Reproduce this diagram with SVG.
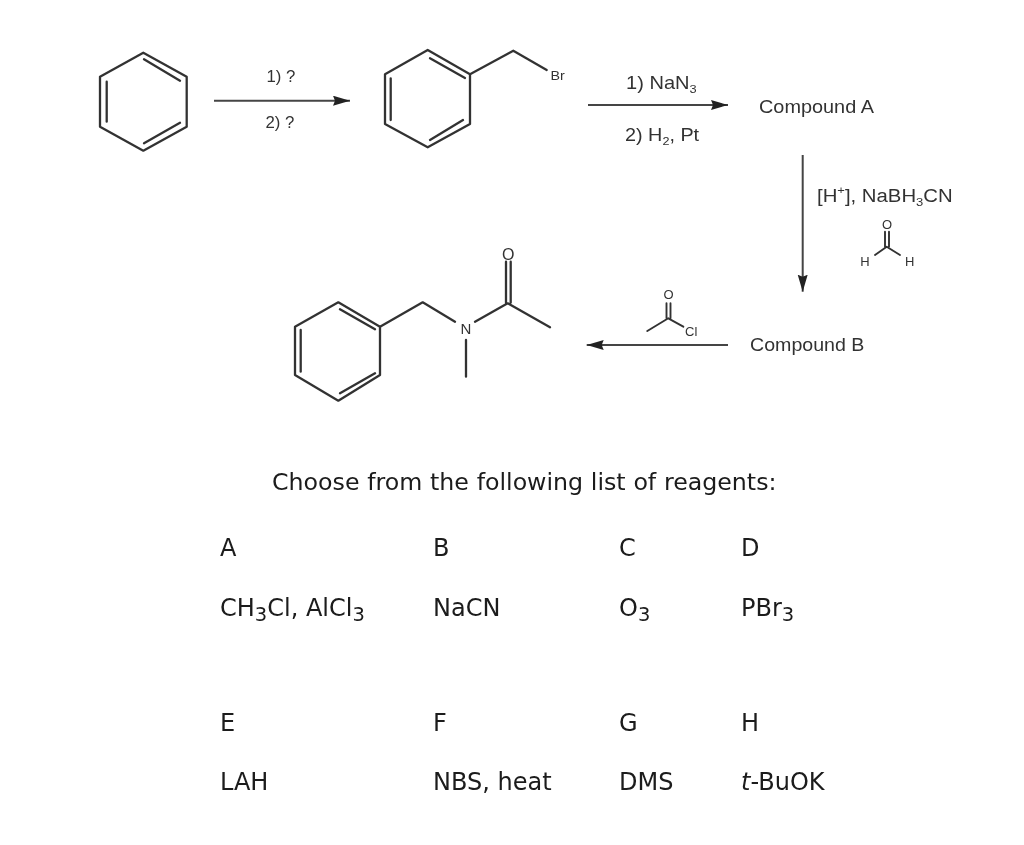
<svg xmlns="http://www.w3.org/2000/svg" width="1024" height="845" viewBox="0 0 1024 845">
<style>
.b{fill:none;stroke:#333;stroke-width:2.3;stroke-linecap:round;stroke-linejoin:round}
.f{stroke-width:1.9}
.a{fill:none;stroke:#444;stroke-width:2}
.c{font-family:"Liberation Sans",Arial,sans-serif;font-size:18px;fill:#333}
.t{font-size:16px}
.m{font-size:13px}
.s{font-size:11.500px}
.l{font-family:"DejaVu Sans",Verdana,sans-serif;font-size:24px;fill:#1a1a1a}
.u{font-size:19.500px}
</style>
<defs>
<marker id="h" markerUnits="userSpaceOnUse" markerWidth="18" markerHeight="11" refX="17" refY="5" orient="auto"><path d="M0 0L17 5L0 10L2 5Z" fill="#222"/></marker>
<filter id="soft" x="-5%" y="-5%" width="110%" height="110%"><feGaussianBlur stdDeviation="0.5"/></filter>
<filter id="soft2" x="-5%" y="-5%" width="110%" height="110%"><feGaussianBlur stdDeviation="0.25"/></filter>
</defs>
<rect width="1024" height="845" fill="#fff"/>
<g filter="url(#soft)">
<g id="benzene">
<path class="b" d="M143.300 52.700L186.700 76.700V126.700L143.300 150.700L100 126.700V76.700Z"/>
<path class="b" d="M144 59.300L180 80.700M106.700 81.700V121.700M144 143.300L180 122.700"/>
</g>
<g id="benzyl-bromide">
<path class="b" d="M427.700 50L470 74.300V124L427.700 147.300L385 124V74.300Z"/>
<path class="b" d="M430 58.300L465 78M390.700 78.300V120M430 140L463 120M470 74.300L513.300 50.700L546.700 70"/>
<text class="c m" transform="translate(550.500 80) scale(1.100 1)">Br</text>
</g>
<g id="compound-a"><text class="c" transform="translate(759 113) scale(1.105 1)">Compound A</text></g>
<g id="compound-b"><text class="c" transform="translate(750 350.500) scale(1.090 1)">Compound B</text></g>
<g id="product">
<path class="b" d="M338.300 302.300L380 326.700V375L338.300 400.700L295 375V326.700Z"/>
<path class="b" d="M340 309.300L375 329.300M300.700 330V371.700M340 393.300L375 373.300M380 326.700L422.700 302.300L455 321.700M466 340V376.700M475 321.700L507.700 303.300L550 327.300M506 261.700V302.700M510.700 261.700V302.700"/>
<text class="c" transform="translate(460.600 334)" style="font-size:15px">N</text>
<text class="c t" transform="translate(502 259.500)">O</text>
</g>
<g id="formaldehyde">
<path class="b f" d="M875 255L886.700 246.700L900 255M885 231.700V246.700M889 231.700V246.700"/>
<text class="c m" transform="translate(882 228.500)">O</text>
<text class="c m" transform="translate(860.300 266)">H</text>
<text class="c m" transform="translate(905 266)">H</text>
</g>
<g id="acetyl-chloride">
<path class="b f" d="M647.300 331L668.300 318.300L683.300 326.700M666.500 303.300V318.300M670.500 303.300V318.300"/>
<text class="c m" transform="translate(663.500 298.500)">O</text>
<text class="c m" transform="translate(685 336)">Cl</text>
</g>
<g id="connectors">
<path class="a" marker-end="url(#h)" d="M214 100.700H350"/>
<path class="a" marker-end="url(#h)" d="M588 105H728"/>
<path class="a" marker-end="url(#h)" d="M802.700 155V291.700"/>
<path class="a" marker-end="url(#h)" d="M728 345H586.700"/>
</g>
<g id="reaction-labels">
<text class="c t" transform="translate(266.500 81.500) scale(1.050 1)">1) ?</text>
<text class="c t" transform="translate(265.500 128) scale(1.050 1)">2) ?</text>
<text class="c" transform="translate(626 89) scale(1.115 1)">1) NaN<tspan class="s" dy="4">3</tspan></text>
<text class="c" transform="translate(625 141) scale(1.100 1)">2) H<tspan class="s" dy="4">2</tspan><tspan dy="-4">, Pt</tspan></text>
<text class="c" transform="translate(817 202) scale(1.130 1)">[H<tspan class="s" dy="-8">+</tspan><tspan dy="8">], NaBH</tspan><tspan class="s" dy="4">3</tspan><tspan dy="-4">CN</tspan></text>
</g>
</g>
<g id="reagent-list" filter="url(#soft2)">
<text class="l" x="272" y="490" style="font-size:23.700px;word-spacing:.2px">Choose from the following list of reagents:</text>
<text class="l" x="220" y="556">A</text><text class="l" x="433" y="556">B</text><text class="l" x="619" y="556">C</text><text class="l" x="741" y="556">D</text>
<text class="l" x="220" y="616">CH<tspan class="u" dy="5">3</tspan><tspan dy="-5">Cl, AlCl</tspan><tspan class="u" dy="5">3</tspan></text>
<text class="l" x="433" y="616">NaCN</text>
<text class="l" x="619" y="616">O<tspan class="u" dy="5">3</tspan></text>
<text class="l" x="741" y="616">PBr<tspan class="u" dy="5">3</tspan></text>
<text class="l" x="220" y="731">E</text><text class="l" x="433" y="731">F</text><text class="l" x="619" y="731">G</text><text class="l" x="741" y="731">H</text>
<text class="l" x="220" y="789.500">LAH</text>
<text class="l" x="433" y="789.500">NBS, heat</text>
<text class="l" x="619" y="789.500">DMS</text>
<text class="l" x="741" y="789.500"><tspan font-style="italic">t</tspan>-BuOK</text>
</g>
</svg>
